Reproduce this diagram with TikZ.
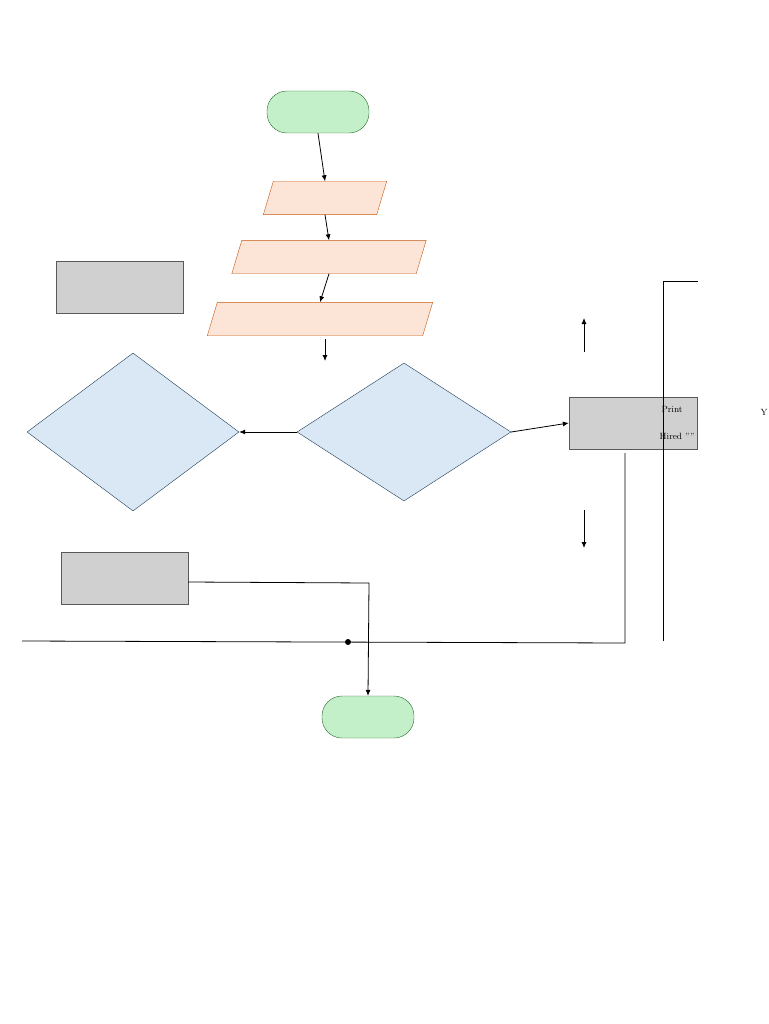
\documentclass[tikz,border=0pt]{standalone}
\usetikzlibrary{shapes.geometric,arrows.meta,calc}
\definecolor{termfill}{HTML}{C3F0C8}
\definecolor{termline}{HTML}{2E6B2E}
\definecolor{iofill}{HTML}{FCE4D6}
\definecolor{ioline}{HTML}{C55A11}
\definecolor{decfill}{HTML}{DAE8F6}
\definecolor{decline}{HTML}{1F3A56}
\definecolor{procfill}{HTML}{D0D0D0}
\tikzset{
  term/.style={rectangle,rounded corners=20pt,draw=termline,fill=termfill,minimum height=42pt,inner sep=1pt},
  io/.style={rectangle,minimum height=33pt,inner sep=1pt},
  iobox/.style={draw=ioline,fill=iofill},
  dec/.style={diamond,draw=decline,fill=decfill,inner sep=1pt},
  proc/.style={rectangle,draw=gray!70!black,fill=procfill,minimum width=127pt,minimum height=52pt,inner sep=1pt},
  arr/.style={-{Latex[length=6pt,width=5pt]},thick},
  ln/.style={thick}
}
\newcommand{\iopath}[1]{\path[iobox] ($(#1.south west)+(-5,0)$) -- ($(#1.south east)+(-5,0)$) -- ($(#1.north east)+(5,0)$) -- ($(#1.north west)+(5,0)$) -- cycle;}
\begin{document}
\begin{tikzpicture}[x=1pt,y=1pt]
\useasboundingbox (0,0) rectangle (768,-1024);
\node[term,minimum width=102pt] (start) at (318,-112) {};
\node[io,minimum width=113pt] (in1) at (325,-198) {};
\node[io,minimum width=184pt] (in2) at (329,-257) {};
\node[io,minimum width=215pt] (in3) at (320,-319) {};
\iopath{in1} \iopath{in2} \iopath{in3}
\node[proc] (box1) at (120,-287) {};
\node[dec,minimum width=212pt,minimum height=158pt] (decL) at (133,-432) {};
\node[dec,minimum width=214pt,minimum height=138pt] (decR) at (404,-432) {};
\node[proc,minimum width=128pt] (print) at (633,-423) {};
\node[anchor=east,font=\small] (ptxt) at (686,-409) {Print};
\node[anchor=east,font=\small] (htxt) at (698,-436) {Hired ""};
\node[font=\small] (ytxt) at (764,-412) {Y};
\node[proc] (box2) at (125,-578) {};
\node[term,minimum width=92pt] (stop) at (368,-717) {};
% arrows down the input chain
\draw[arr] (start.south) -- (in1.north);
\draw[arr] (in1.south) -- (in2.north);
\draw[arr] (in2.south) -- (in3.north);
\coordinate (a1) at (325,-339); \coordinate (a2) at (325,-361);
\draw[arr] (a1) -- (a2);
\draw[arr] (decR.west) -- (decL.east);
\draw[arr] (decR.east) -- (print.west);
\coordinate (u1) at (584,-352); \coordinate (u2) at (584,-318);
\draw[arr] (u1) -- (u2);
\coordinate (d1) at (584,-510); \coordinate (d2) at (584,-548);
\draw[arr] (d1) -- (d2);
% loose lines
\coordinate (r1) at (663,-641); \coordinate (r2) at (663,-281); \coordinate (r3) at (698,-281);
\draw[ln] (r1) -- (r2) -- (r3);
\coordinate (p1) at (625,-453); \coordinate (p2) at (625,-643); \coordinate (p3) at (22,-641);
\draw[ln] (p1) -- (p2) -- (p3);
\fill (348,-642) circle (3);
\coordinate (b0) at (188,-582); \coordinate (b1) at (369,-583);
\draw[arr] (b0) -- (b1) -- (stop.north);
\end{tikzpicture}
\end{document}
